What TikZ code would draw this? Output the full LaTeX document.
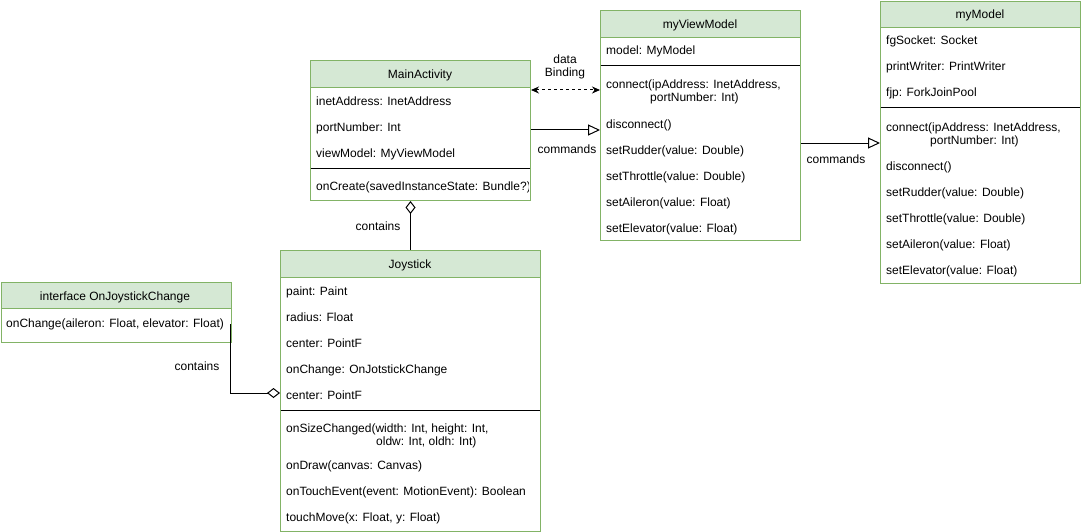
\documentclass[tikz,border=0pt]{standalone}
\usepackage{fontspec}
\setmainfont{Liberation Sans}
\usetikzlibrary{arrows.meta}
\definecolor{boxgreen}{HTML}{82B366}
\definecolor{headgreen}{HTML}{D5E8D4}

\begin{document}
\begin{tikzpicture}[x=1pt, y=-1pt,
  every node/.style={font=\fontsize{12}{13}\selectfont},
  classbox/.style={draw=boxgreen, line width=1pt, inner sep=0pt, anchor=north west},
  member/.style={anchor=base west, inner sep=0pt, align=left},
  title/.style={anchor=base, inner sep=0pt},
  link/.style={line width=1pt},
  agg/.style={link, arrows={Diamond[open, length=13pt, width=10pt]-}},
  impl/.style={link, arrows={-Triangle[open, length=12pt, width=11pt]}}]
  \useasboundingbox (0,0) rectangle (1081,532);
  \def\rowh{26}

  % MainActivity
  \node[classbox, fill=headgreen, minimum width=220pt, minimum height=27pt] (mainHead) at (310,60) {};
  \node[classbox, minimum width=220pt, minimum height=140pt] (main) at (310,60) {};
  \node[title] (mainTitle) at (420,78.5) {MainActivity};
  \foreach \t [count=\k] in {inetAddress: InetAddress, portNumber: Int, viewModel: MyViewModel}
    \node[member] (main\k) at (316, 79.5+\rowh*\k) {\t};
  \draw[line width=1pt] (310.5,168) -- (529.5,168);
  \begin{scope}
    \clip (310,168) rectangle (528,200);
    \node[member] (main4) at (316,190) {onCreate(savedInstanceState: Bundle?)};
  \end{scope}

  % myViewModel
  \node[classbox, fill=headgreen, minimum width=200pt, minimum height=27pt] (vmHead) at (600,10) {};
  \node[classbox, minimum width=200pt, minimum height=230pt] (vm) at (600,10) {};
  \node[title] (vmTitle) at (700,28.5) {myViewModel};
  \node[member] (vm0) at (606,55) {model: MyModel};
  \draw[line width=1pt] (600.5,66) -- (799.5,66);
  \node[member] (vmConnect) at (606,102) {connect(ipAddress: InetAddress,\\\hspace*{44pt}portNumber: Int)};
  \foreach \t [count=\k] in {disconnect(), setRudder(value: Double), setThrottle(value: Double),
                              setAileron(value: Float), setElevator(value: Float)}
    \node[member] (vm\k) at (606, 102.5+\rowh*\k) {\t};

  % myModel
  \node[classbox, fill=headgreen, minimum width=200pt, minimum height=26pt] (modelHead) at (880,1) {};
  \node[classbox, minimum width=200pt, minimum height=282pt] (model) at (880,1) {};
  \node[title] (modelTitle) at (980,18.5) {myModel};
  \foreach \t [count=\k] in {fgSocket: Socket, printWriter: PrintWriter, fjp: ForkJoinPool}
    \node[member] (modelAttr\k) at (886, 19+\rowh*\k) {\t};
  \draw[line width=1pt] (880.5,108) -- (1079.5,108);
  \node[member] (modelConnect) at (886,144) {connect(ipAddress: InetAddress,\\\hspace*{44pt}portNumber: Int)};
  \foreach \t [count=\k] in {disconnect(), setRudder(value: Double), setThrottle(value: Double),
                              setAileron(value: Float), setElevator(value: Float)}
    \node[member] (model\k) at (886, 144.5+\rowh*\k) {\t};

  % Joystick
  \node[classbox, fill=headgreen, minimum width=260pt, minimum height=27pt] (joyHead) at (280,250) {};
  \node[classbox, minimum width=260pt, minimum height=281pt] (joy) at (280,250) {};
  \node[title] (joyTitle) at (410,268.5) {Joystick};
  \foreach \t [count=\k] in {paint: Paint, radius: Float, center: PointF,
                              onChange: OnJotstickChange, center: PointF}
    \node[member] (joy\k) at (286, 269.5+\rowh*\k) {\t};
  \draw[line width=1pt] (280.5,410) -- (539.5,410);
  \node[member] (joySize) at (286,445) {onSizeChanged(width: Int, height: Int,\\\hspace*{90pt}oldw: Int, oldh: Int)};
  \foreach \t [count=\k] in {onDraw(canvas: Canvas), onTouchEvent(event: MotionEvent): Boolean,
                              {touchMove(x: Float, y: Float)}}
    \node[member] (joyM\k) at (286, 443+\rowh*\k) {\t};

  % interface OnJoystickChange
  \node[classbox, fill=headgreen, minimum width=230pt, minimum height=26pt] (ifaceHead) at (0.5,282) {};
  \node[classbox, minimum width=230pt, minimum height=60pt] (iface) at (0.5,282) {};
  \node[title] (ifaceTitle) at (115,300.5) {interface OnJoystickChange};
  \node[member] (iface1) at (6,327) {onChange(aileron: Float, elevator: Float)};

  % connectors
  \coordinate (bind) at (565,90);
  \draw[link, dash pattern=on 3pt off 3pt,
        arrows={Stealth[length=8pt, width=7pt]-Stealth[length=8pt, width=7pt]}]
    (bind -| main.east) -- (bind -| vm.west);
  \node[align=center] (bindLabel) at (565,67) {data\\Binding};

  \coordinate (cmdA) at (565,130);
  \draw[impl] (cmdA -| main.east) -- (cmdA -| vm.west);
  \node (cmdLabelA) at (567,149) {commands};

  \coordinate (cmdB) at (840,143);
  \draw[impl] (cmdB -| vm.east) -- (cmdB -| model.west);
  \node (cmdLabelB) at (836,159) {commands};

  \draw[agg] (joy.north |- main.south) -- (joy.north);
  \node (containsA) at (378,226) {contains};

  \coordinate (ifLink) at (230.5,393);
  \draw[agg] (ifLink -| joy.west) -- (ifLink) -- (ifLink |- iface1.west);
  \node (containsB) at (197,366) {contains};
\end{tikzpicture}
\end{document}
